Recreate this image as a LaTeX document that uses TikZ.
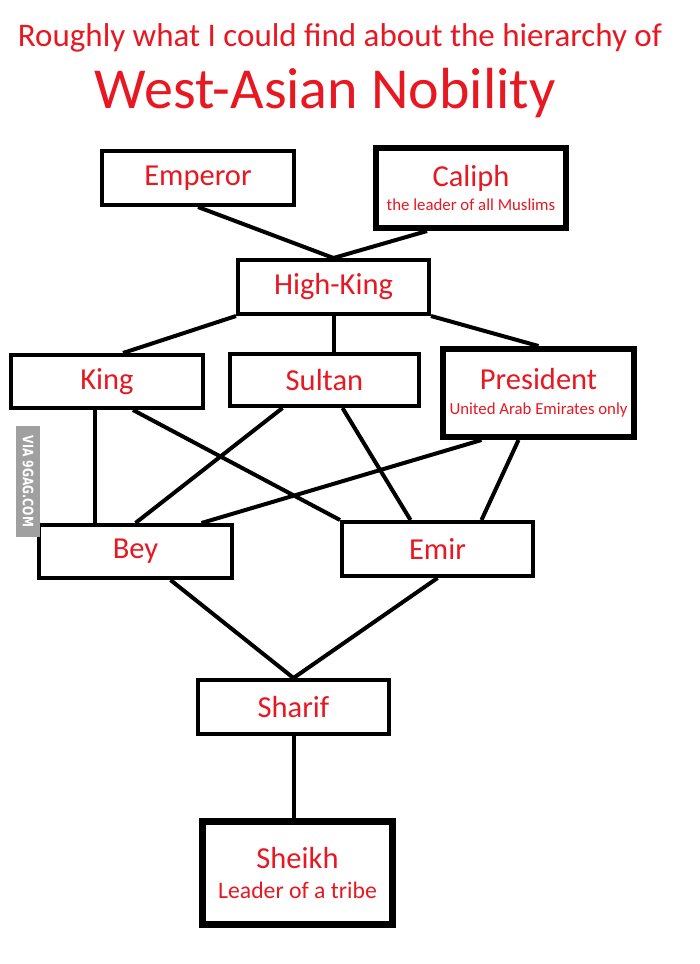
\documentclass[tikz,border=0pt]{standalone}
\usepackage{fontspec}
\setmainfont{Carlito}
\newfontfamily\wmfont{DejaVu Sans}
\definecolor{nobred}{RGB}{232,24,34}
\definecolor{wmgray}{RGB}{160,160,160}
\begin{document}
\begin{tikzpicture}[x=1pt,y=-1pt,line join=miter,
  rank/.style={draw,line width=4pt,minimum width=192pt,minimum height=54pt,inner sep=0pt,text=nobred,font=\fontsize{30.5}{30}\selectfont},
  bigrank/.style={rank,line width=6pt,align=center},
  link/.style={line width=4pt}]
\fill[white] (0,0) rectangle (700,964);
\useasboundingbox (0,0) rectangle (700,964);
\node[text=nobred,font=\fontsize{33}{33}\selectfont,anchor=base] (title) at (340,46) {Roughly what I could find about the hierarchy of};
\node[text=nobred,font=\fontsize{58}{58}\selectfont,anchor=base] (subtitle) at (325,108) {West-Asian Nobility};
\node[rank] (emperor) at (198,178) {Emperor};
\node[bigrank,minimum width=190pt,minimum height=80pt] (caliph) at (471,188) {Caliph\\[-6pt]\fontsize{16.8}{20}\selectfont the leader of all Muslims};
\node[rank,minimum width=191pt] (highking) at (333.5,287) {High-King};
\node[rank,minimum height=53pt] (king) at (107,381.5) {King};
\node[rank,minimum width=189pt,minimum height=52pt] (sultan) at (324.5,380) {Sultan};
\node[bigrank,minimum width=191pt,minimum height=88pt] (president) at (538.5,393) {President\\[-5pt]\fontsize{16.8}{20}\selectfont United Arab Emirates only};
\node[rank,minimum width=193pt,minimum height=53pt] (bey) at (135.5,551.5) {Bey};
\node[rank,minimum width=191pt] (emir) at (437.5,549) {Emir};
\node[rank,minimum width=191pt] (sharif) at (293.5,707) {Sharif};
\node[bigrank,line width=7pt,minimum width=190pt,minimum height=103pt] (sheikh) at (297.5,873) {Sheikh\\[0pt]\fontsize{23.7}{26}\selectfont Leader of a tribe};
\node[fill=wmgray,text=white,rotate=-90,minimum width=111pt,minimum height=24pt,inner sep=0pt] (watermark) at (28,481.5) {\scalebox{0.76}[1]{\wmfont\bfseries\fontsize{14.4}{14.4}\selectfont VIA 9GAG.COM}};
\draw[link] (emperor.south) -- (highking.north);
\draw[link] ([xshift=-44pt]caliph.south) -- (highking.north);
\draw[link] (highking.south west) -- ([xshift=16pt]king.north);
\draw[link] (highking.south) -- (highking.south |- sultan.north);
\draw[link] (highking.south east) -- (president.north);
\draw[link] ([xshift=-12pt]king.south) -- ([xshift=-12pt]king.south |- bey.north);
\draw[link] ([xshift=26pt]king.south) -- (emir.north west);
\draw[link] ([xshift=-42pt]sultan.south) -- (bey.north);
\draw[link] ([xshift=18pt]sultan.south) -- ([xshift=-27pt]emir.north);
\draw[link] ([xshift=-57pt]president.south) -- ([xshift=66pt]bey.north);
\draw[link] ([xshift=-20pt]president.south) -- ([xshift=44pt]emir.north);
\draw[link] ([xshift=35pt]bey.south) -- (sharif.north);
\draw[link] (emir.south) -- (sharif.north);
\draw[link] (sharif.south) -- (sharif.south |- sheikh.north);
\end{tikzpicture}
\end{document}
